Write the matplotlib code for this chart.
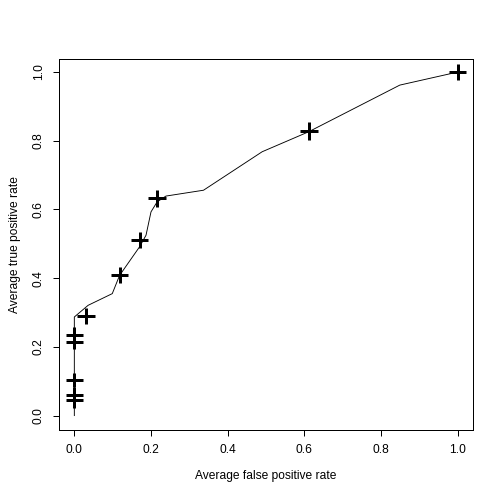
import matplotlib
matplotlib.use("Agg")
import matplotlib.pyplot as plt

plt.rcParams['font.family'] = ['Liberation Sans', 'DejaVu Sans']

# averaged ROC curve
curve_fpr = [0.0, 0.0, 0.036, 0.099, 0.118, 0.170, 0.187, 0.200, 0.216, 0.239,
             0.337, 0.490, 0.611, 0.849, 1.0]
curve_tpr = [0.0, 0.287, 0.321, 0.355, 0.408, 0.491, 0.525, 0.593, 0.622, 0.639,
             0.656, 0.768, 0.826, 0.962, 1.0]

# threshold-averaged points with standard error spread
pt_fpr = [0.0, 0.0, 0.0, 0.0, 0.0, 0.031, 0.118, 0.170, 0.216, 0.612, 1.0]
pt_tpr = [0.044, 0.061, 0.104, 0.214, 0.235, 0.289, 0.410, 0.510, 0.632, 0.828, 1.0]
pt_xerr = [0.023, 0.023, 0.023, 0.023, 0.023, 0.023, 0.023, 0.023, 0.023, 0.023, 0.023]
pt_yerr = [0.022, 0.022, 0.021, 0.020, 0.024, 0.023, 0.023, 0.023, 0.024, 0.026, 0.023]

ticks = [0.0, 0.2, 0.4, 0.6, 0.8, 1.0]
tick_labels = ['0.0', '0.2', '0.4', '0.6', '0.8', '1.0']

fig = plt.figure(figsize=(7, 7), dpi=72)
ax = fig.add_axes([59/504, 74/504, 414/504, 371/504])

ax.plot(curve_fpr, curve_tpr, color='black', lw=0.9)
ax.errorbar(pt_fpr, pt_tpr, xerr=pt_xerr, yerr=pt_yerr, fmt='none',
            ecolor='black', elinewidth=3, capsize=0)

ax.set_xlim(-0.04, 1.04)
ax.set_ylim(-0.042, 1.038)
ax.set_xticks(ticks)
ax.set_xticklabels(tick_labels)
ax.set_yticks(ticks)
ax.set_yticklabels(tick_labels, rotation=90, va='center')
ax.tick_params(direction='out', length=6, width=1, labelsize=12, pad=8)
for s in ax.spines.values():
    s.set_linewidth(1)
    s.set_color('black')

ax.set_xlabel('Average false positive rate', fontsize=12, labelpad=14)
ax.set_ylabel('Average true positive rate', fontsize=12, labelpad=12)

fig.savefig('out.png', dpi=72, facecolor='white')
